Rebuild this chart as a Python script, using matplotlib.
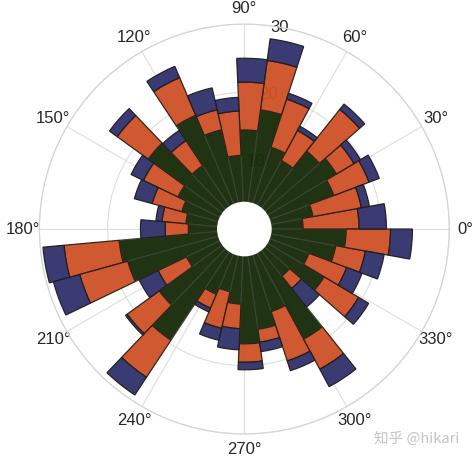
import numpy as np
import matplotlib
matplotlib.use("Agg")
import matplotlib.pyplot as plt

# ---- data (35 direction bins, stacked layers) ----
n_bins = 35
green = [8.6, 10.2, 14.0, 15.7, 14.6, 11.4, 12.6, 17.6, 14.5, 10.8, 14.9, 18.1,
         11.1, 17.4, 10.8, 9.5, 8.6, 8.2, 18.4, 17.7, 9.4, 15.4, 19.5, 10.4,
         9.4, 11.0, 16.8, 14.8, 12.7, 18.3, 8.8, 13.6, 10.1, 13.6, 14.9]
orange = [8.2, 7.2, 5.5, 3.0, 7.8, 5.0, 7.4, 7.3, 7.0, 6.5, 3.0, 6.0,
          4.4, 5.6, 5.6, 4.5, 3.5, 3.4, 8.1, 7.3, 4.6, 5.8, 6.5, 2.2,
          5.5, 3.6, 2.7, 1.9, 7.6, 5.0, 2.3, 5.9, 5.9, 4.4, 6.5]
navy = [4.0, 1.2, 1.6, 1.1, 1.0, 0.7, 0.9, 3.2, 3.5, 2.0, 3.3, 1.8,
        1.8, 1.4, 2.0, 2.7, 0.9, 3.6, 3.1, 4.0, 3.1, 0.3, 3.1, 0.6,
        1.8, 3.1, 1.1, 1.4, 1.5, 2.9, 3.5, 1.7, 2.4, 2.8, 3.2]
r_ticks = [10, 20, 30]
r_labels = ["10", "20", "30"]
theta_ticks = list(range(0, 360, 30))
theta_labels = [f"{t}°" for t in theta_ticks]
hole = 4.0
r_max = 30

plt.rcParams['font.family'] = ['Liberation Sans', 'DejaVu Sans']

fig = plt.figure(figsize=(4.74, 4.59), dpi=100)
ax = fig.add_axes([0.083, 0.0545, 0.865, 0.893], projection='polar')

width = 2 * np.pi / n_bins
theta = (np.arange(n_bins) + 0.5) * width
g = np.array(green)
o = np.array(orange)
nv = np.array(navy)

ax.set_axisbelow(True)
common = dict(width=width, linewidth=0.9, alpha=0.96, zorder=3)
ax.bar(theta, g, bottom=0, color='#172a08', edgecolor='#3b4433', **common)
ax.bar(theta, o, bottom=g, color='#cf5229', edgecolor='#2a2018', **common)
ax.bar(theta, nv, bottom=g + o, color='#33336e', edgecolor='#221e1e', **common)

# white centre
ax.bar(0, hole, width=2 * np.pi, bottom=0, color='white', linewidth=0, zorder=6)

ax.set_ylim(0, r_max)
ax.set_yticks(r_ticks)
ax.set_yticklabels([])
for r, lab in zip(r_ticks, r_labels):
    ax.text(np.deg2rad(80), r, lab, ha='center', va='center', fontsize=12,
            color='#262626', zorder=2)

ax.set_xticks(np.deg2rad(theta_ticks))
ax.set_xticklabels(theta_labels, fontsize=12, color='#262626')
ax.tick_params(axis='x', pad=1.0)
ax.grid(True, color='#dedede', linewidth=0.8)
ax.spines['polar'].set_color('#d4d4d4')
ax.spines['polar'].set_linewidth(0.9)

fig.text(0.79, 0.043, "知乎 @hikari", fontsize=10.5, color='#c4c4c4',
         family=['Noto Sans CJK SC', 'DejaVu Sans'], ha='left', va='center')

fig.savefig("out.png", dpi=100)
